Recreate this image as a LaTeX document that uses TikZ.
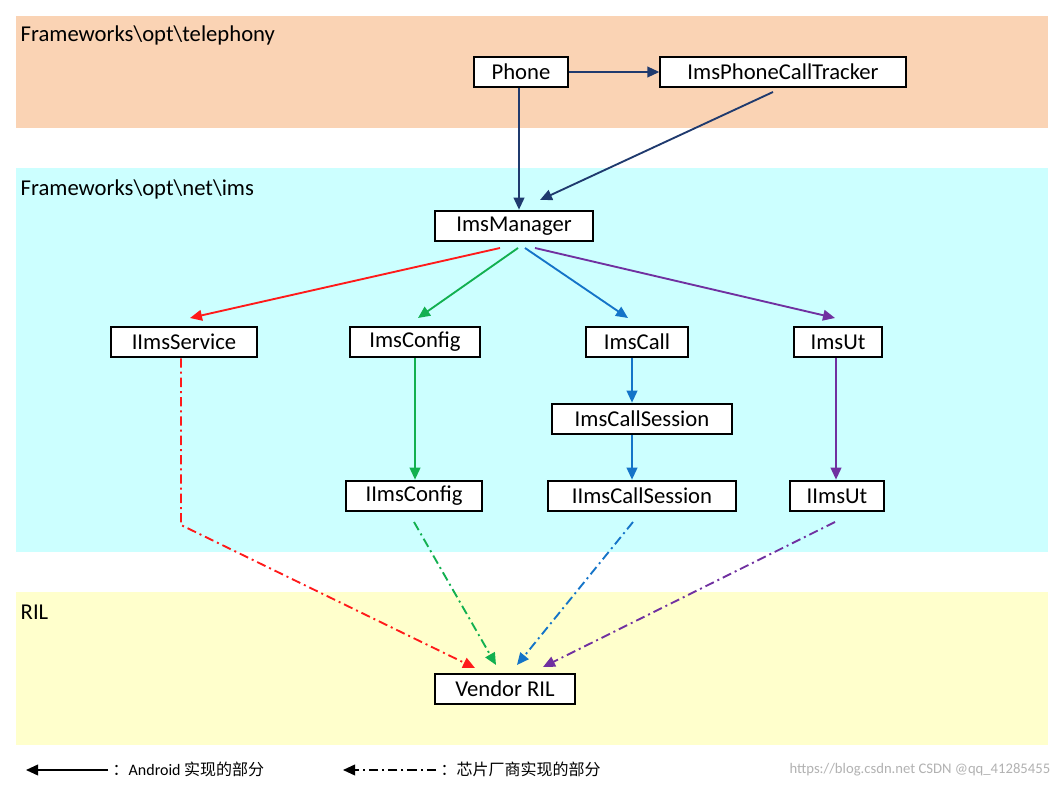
\documentclass[tikz,border=0pt]{standalone}
\usepackage{fontspec}
\setmainfont{Carlito}
\newfontfamily\cjk{Noto Sans CJK SC}
\usetikzlibrary{arrows.meta}
\definecolor{navy}{HTML}{1F3A6E}
\definecolor{cred}{HTML}{FF1A1A}
\definecolor{cgreen}{HTML}{12B050}
\definecolor{cblue}{HTML}{1474C8}
\definecolor{cpurple}{HTML}{7030A0}
\definecolor{bandA}{HTML}{FAD3B4}
\definecolor{bandB}{HTML}{CCFFFF}
\definecolor{bandC}{HTML}{FFFFCC}
\begin{document}
\begin{tikzpicture}[x=0.75pt,y=-0.75pt,
  box/.style={draw=black,line width=1.5pt,fill=white,minimum height=23pt,inner xsep=4pt,font=\fontsize{17}{20}\selectfont},
  lbl/.style={anchor=west,font=\fontsize{17}{20}\selectfont},
  arr/.style={line width=1.4pt,-{Triangle[length=9pt,width=8pt]}},
  dd/.style={arr,dash pattern=on 7pt off 3pt on 1.5pt off 3pt}]
\useasboundingbox (0,0) rectangle (1061,788);
\fill[white] (0,0) rectangle (1061,788);
\fill[bandA] (16,16) rectangle (1048,128);
\fill[bandB] (16,168) rectangle (1048,552);
\fill[bandC] (16,592) rectangle (1048,745);
\node[lbl] (l1) at (16,35) {Frameworks\textbackslash opt\textbackslash telephony};
\node[lbl] (l2) at (16,189) {Frameworks\textbackslash opt\textbackslash net\textbackslash ims};
\node[lbl] (l3) at (16,612) {RIL};

\node[box,minimum width=70pt] (phone) at (521,72) {Phone};
\node[box,minimum width=184pt] (tracker) at (783,72) {ImsPhoneCallTracker};
\node[box,minimum width=118pt] (mgr) at (514,226) {ImsManager};
\node[box,minimum width=109pt] (isvc) at (184,342) {IImsService};
\node[box,minimum width=97pt] (cfg) at (415,342) {ImsConfig};
\node[box,minimum width=76pt] (call) at (637,342) {ImsCall};
\node[box,minimum width=66pt] (ut) at (838,342) {ImsUt};
\node[box,minimum width=135pt] (cs) at (642,419) {ImsCallSession};
\node[box,minimum width=102pt] (icfg) at (414,496) {IImsConfig};
\node[box,minimum width=141pt] (ics) at (642,496) {IImsCallSession};
\node[box,minimum width=71pt] (iut) at (837,496) {IImsUt};
\node[box,minimum width=105pt] (ril) at (505,689) {Vendor RIL};

\draw[arr,navy] (phone.east) -- (tracker.west);
\draw[arr,navy] (phone.south -| 519,0) -- (mgr.north -| 519,0);
\draw[arr,navy] (773,92) -- (540,200);
\draw[arr,cred] (500,248) -- (190,318);
\draw[arr,cgreen] (518,248) -- (418,318);
\draw[arr,cblue] (525,248) -- (628,318);
\draw[arr,cpurple] (535,248) -- (835,318);
\draw[arr,cgreen] (cfg.south -| 415,0) -- (icfg.north -| 415,0);
\draw[arr,cblue] (call.south -| 632,0) -- (cs.north -| 632,0);
\draw[arr,cblue] (cs.south -| 632,0) -- (ics.north -| 632,0);
\draw[arr,cpurple] (ut.south -| 836,0) -- (iut.north -| 836,0);

\coordinate (rc) at (181,525);
\draw[dd,cred] (isvc.south -| 181,0) -- (rc) -- (475,668);
\draw[dd,cgreen] (414,522) -- (496,665);
\draw[dd,cblue] (633,522) -- (517,665);
\draw[dd,cpurple] (835,522) -- (543,667);

\coordinate (a1) at (108,770); \coordinate (a2) at (26,770);
\draw[arr,black,line width=1.2pt] (a1) -- (a2);
\node[anchor=west,font=\fontsize{12}{14}\selectfont] (t1) at (108,769) {{\cjk ：}Android {\cjk 实现的部分}};
\coordinate (b1) at (436,770); \coordinate (b2) at (343,770);
\draw[dd,black,line width=1.2pt] (b1) -- (b2);
\node[anchor=west,font=\fontsize{12}{14}\selectfont] (t2) at (436,769) {\cjk ：芯片厂商实现的部分};
\node[anchor=east,text=gray!60,font=\fontsize{11}{13}\selectfont] (wm) at (1055,770) {https://blog.csdn.net CSDN @qq\_41285455};
\end{tikzpicture}
\end{document}
